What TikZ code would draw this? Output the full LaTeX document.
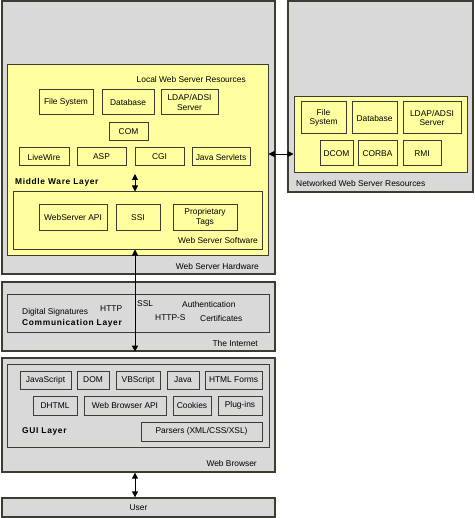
\documentclass[tikz,border=0pt]{standalone}
\usepackage{fontspec}
\setmainfont{Liberation Sans}
\usepackage{tikz}
\usetikzlibrary{arrows.meta, calc}
\usepackage{xcolor}
\definecolor{graybg}{RGB}{217,217,217}
\definecolor{yellowbg}{RGB}{255,255,160}
\definecolor{edge}{RGB}{60,60,50}

\tikzset{
  hwbox/.style={draw=edge, line width=1.3pt, fill=graybg, inner sep=0pt},
  frame/.style={draw=edge, line width=1pt, inner sep=0pt},
  resbox/.style={draw=edge, line width=1pt, fill=yellowbg, inner sep=0pt},
  comp/.style={draw=edge, line width=1pt, fill=yellowbg, inner sep=0pt, align=center,
    font=\fontsize{8.4}{9.4}\selectfont},
  gcomp/.style={comp, fill=graybg},
  lbl/.style={inner sep=0pt, font=\fontsize{8.4}{9.4}\selectfont},
  blbl/.style={inner sep=0pt, font=\fontsize{8.4}{9.4}\selectfont\bfseries\addfontfeature{LetterSpace=8}},
  dbl/.style={{Triangle[length=6pt,width=6pt]}-{Triangle[length=6pt,width=6pt]}, line width=0.9pt, black}
}

\begin{document}
\begin{tikzpicture}[x=1pt, y=-1pt]
        \useasboundingbox (0,0) rectangle (474,518);

        % Web Server Hardware
        \node[hwbox, minimum width=273pt, minimum height=273pt] (hw) at (138.5,137.5) {};
        \node[lbl, anchor=east] (hwlbl) at (259,266) {Web Server Hardware};

        % Middle Ware Layer
        \node[resbox, minimum width=261pt, minimum height=190pt] (mware) at (137.5,160) {};
        \node[lbl, anchor=east] (locres) at (246,80) {Local Web Server Resources};
        \node[comp, minimum width=54pt, minimum height=25pt] (fs) at (66,102.5) {File System};
        \node[comp, minimum width=52pt, minimum height=25pt] (db) at (128,102.5) {Database};
        \node[comp, minimum width=57pt, minimum height=25pt] (ldap) at (189.5,102.5) {LDAP/ADSI\\Server};
        \node[comp, minimum width=39pt, minimum height=18pt] (com) at (128.5,132) {COM};
        \node[comp, minimum width=50pt, minimum height=18pt] (lw) at (44,157) {LiveWire};
        \node[comp, minimum width=49pt, minimum height=18pt] (asp) at (101.5,157) {ASP};
        \node[comp, minimum width=49pt, minimum height=18pt] (cgi) at (159.5,157) {CGI};
        \node[comp, minimum width=58pt, minimum height=18pt] (jsv) at (221,157) {Java Servlets};
        \node[blbl, anchor=west] (mwlbl) at (15,182) {Middle Ware Layer};

        % Web Server Software
        \node[frame, minimum width=249pt, minimum height=57pt] (wsoft) at (137.5,220.5) {};
        \node[comp, minimum width=68pt, minimum height=25pt] (wapi) at (73,217.5) {WebServer API};
        \node[comp, minimum width=44pt, minimum height=25pt] (ssi) at (138,217.5) {SSI};
        \node[comp, minimum width=64pt, minimum height=25pt] (ptag) at (205,217.5) {Proprietary\\Tags};
        \node[lbl, anchor=east] (wslbl) at (258,240) {Web Server Software};

        % Networked Web Server Resources
        \node[hwbox, minimum width=185pt, minimum height=191pt] (netbg) at (380.5,96.5) {};
        \node[resbox, minimum width=173pt, minimum height=76pt] (netres) at (380.5,135) {};
        \node[comp, minimum width=45pt, minimum height=32pt] (nfs) at (323.5,118) {File\\System};
        \node[comp, minimum width=45pt, minimum height=32pt] (ndb) at (374.5,118) {Database};
        \node[comp, minimum width=58pt, minimum height=32pt] (nldap) at (432,118) {LDAP/ADSI\\Server};
        \node[comp, minimum width=33pt, minimum height=25pt] (dcom) at (336.5,153.5) {DCOM};
        \node[comp, minimum width=39pt, minimum height=25pt] (corba) at (377.5,153.5) {CORBA};
        \node[comp, minimum width=38pt, minimum height=25pt] (rmi) at (422,153.5) {RMI};
        \node[lbl, anchor=west] (netlbl) at (296,183) {Networked Web Server Resources};

        % The Internet
        \node[hwbox, minimum width=273pt, minimum height=69pt] (inet) at (138.5,316.5) {};
        \node[frame, minimum width=262pt, minimum height=38pt] (comm) at (138,313) {};
        \node[lbl, anchor=west] (dsig) at (22,312) {Digital Signatures};
        \node[lbl, anchor=west] (http) at (100,309) {HTTP};
        \node[lbl, anchor=west] (ssl) at (137,304) {SSL};
        \node[lbl, anchor=west] (auth) at (182,304) {Authentication};
        \node[lbl, anchor=west] (https) at (155,318) {HTTP-S};
        \node[lbl, anchor=west] (cert) at (200,318) {Certificates};
        \node[blbl, anchor=west] (commlbl) at (22,323) {Communication Layer};
        \node[lbl, anchor=east] (inetlbl) at (258,343) {The Internet};

        % Web Browser
        \node[hwbox, minimum width=273pt, minimum height=114pt] (browser) at (138.5,415) {};
        \node[frame, minimum width=262pt, minimum height=83pt] (gui) at (138,405.5) {};
        \node[gcomp, minimum width=51pt, minimum height=18pt] (js) at (45.5,380) {JavaScript};
        \node[gcomp, minimum width=32pt, minimum height=18pt] (dom) at (93,380) {DOM};
        \node[gcomp, minimum width=44pt, minimum height=18pt] (vbs) at (138,380) {VBScript};
        \node[gcomp, minimum width=32pt, minimum height=18pt] (java) at (183,380) {Java};
        \node[gcomp, minimum width=57pt, minimum height=18pt] (hform) at (233.5,380) {HTML Forms};
        \node[gcomp, minimum width=44pt, minimum height=19pt] (dhtml) at (55,405.5) {DHTML};
        \node[gcomp, minimum width=82pt, minimum height=19pt] (wbapi) at (125,405.5) {Web Browser API};
        \node[gcomp, minimum width=38pt, minimum height=19pt] (cook) at (192,405.5) {Cookies};
        \node[gcomp, minimum width=44pt, minimum height=19pt] (plug) at (240,405.5) {Plug-ins};
        \node[gcomp, minimum width=121pt, minimum height=19pt] (pars) at (201.5,431.5) {Parsers (XML/CSS/XSL)};
        \node[blbl, anchor=west] (guilbl) at (22,431) {GUI Layer};
        \node[lbl, anchor=east] (brlbl) at (257,463) {Web Browser};

        % User
        \node[hwbox, minimum width=273pt, minimum height=19pt, font=\fontsize{8.4}{9.4}\selectfont] (user) at (138.5,507.5) {User};

        % Connectors
        \coordinate (spine) at (135,0);
        \coordinate (mwtop) at (135,174);
        \draw[dbl] ([yshift=6pt]mware.east) -- ([yshift=6pt]mware.east -| netres.west);
        \draw[dbl] (mwtop) -- (wsoft.north -| spine);
        \draw[dbl] (wsoft.south -| spine) -- (inet.south -| spine);
        \draw[dbl] (browser.south -| spine) -- (user.north -| spine);

    \end{tikzpicture}
\end{document}
